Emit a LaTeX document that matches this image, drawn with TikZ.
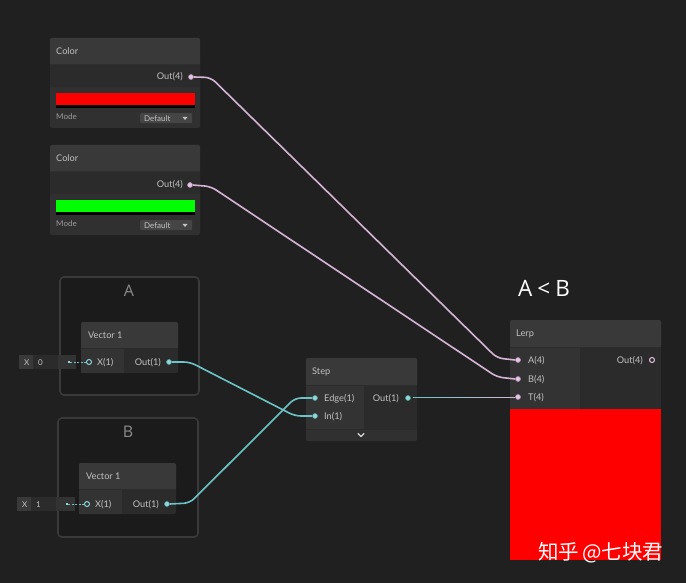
\documentclass[tikz,border=0pt]{standalone}
\usepackage{fontspec}
\setmainfont{Lato}
\newfontfamily\cjkfont{Noto Sans CJK SC}
\newfontfamily\bigfont{Open Sans}
\usetikzlibrary{calc}
\definecolor{bg}{HTML}{202020}
\definecolor{hdrc}{HTML}{393939}
\definecolor{bodyD}{HTML}{2B2B2B}
\definecolor{bodyL}{HTML}{333333}
\definecolor{bodyM}{HTML}{303030}
\definecolor{grpfill}{HTML}{1B1B1B}
\definecolor{grpline}{HTML}{3A3A3A}
\definecolor{txt}{HTML}{C2C2C2}
\definecolor{txtdim}{HTML}{9E9E9E}
\definecolor{tealL}{HTML}{8ED8D8}
\definecolor{tealW}{HTML}{6CC4C6}
\definecolor{pinkL}{HTML}{E6C6E6}
\definecolor{pinkW}{HTML}{D6B4D6}
\definecolor{ddc}{HTML}{454545}
\begin{document}
\begin{tikzpicture}[x=1pt,y=-1pt,
  panel/.style={fill=bodyM, rounded corners=2pt, inner sep=0pt, outer sep=0pt, anchor=north west},
  grp/.style={draw=grpline, line width=1.6pt, fill=grpfill, rounded corners=4pt, inner sep=0pt, outer sep=0pt, anchor=north west},
  lbl/.style={text=txt, font=\fontsize{9.2}{11}\selectfont, inner sep=0pt, anchor=west},
  lble/.style={lbl, anchor=east},
  dim/.style={text=txtdim, font=\fontsize{8}{9}\selectfont, inner sep=0pt, anchor=west},
  grptitle/.style={text=txtdim!120, font=\bigfont\fontsize{16}{18}\selectfont, inner sep=0pt},
  tport/.style={circle, fill=tealL, draw=tealW!80!black, line width=0.6pt, minimum size=5pt, inner sep=0pt},
  tportO/.style={circle, draw=tealL, fill=bodyL, line width=1pt, minimum size=5pt, inner sep=0pt},
  pport/.style={circle, fill=pinkL, draw=pinkW!80!black, line width=0.6pt, minimum size=5pt, inner sep=0pt},
  pportO/.style={circle, draw=pinkL, fill=bodyD, line width=1pt, minimum size=5pt, inner sep=0pt},
  twire/.style={draw=tealW, line width=1.6pt, rounded corners=6pt},
  pwire/.style={draw=pinkW, line width=1.6pt, rounded corners=6pt},
  ddtri/.style={fill=txt},
]
\useasboundingbox (0,0) rectangle (686,583);
\fill[bg] (0,0) rectangle (686,583);

% ---------- Color node 1 ----------
\node[panel, minimum width=150pt, minimum height=90pt] (c1) at (50,38) {};
\fill[hdrc, rounded corners=2pt] (50,38) rectangle (200,64);
\fill[hdrc] (50,56) rectangle (200,64);
\fill[bodyD] (50,65) rectangle (200,87);
\node[lbl] (c1t) at (56,51) {Color};
\node[lble] (c1o) at (183,77) {Out(4)};
\node[pport] (c1p) at (191,77) {};
\fill[red] (56,93) rectangle (195,105);
\fill[black] (56,105) rectangle (195,108);
\node[dim] (c1m) at (56,117) {Mode};
\node[fill=ddc, minimum width=52pt, minimum height=10pt, inner sep=0pt, anchor=north west, rounded corners=1pt] (c1d) at (140,113) {};
\node[dim, text=txt] (c1dt) at (144,118.5) {Default};
\fill[ddtri] (182.5,117) -- (187.5,117) -- (185,120) -- cycle;

% ---------- Color node 2 ----------
\node[panel, minimum width=150pt, minimum height=90pt] (c2) at (50,145) {};
\fill[hdrc, rounded corners=2pt] (50,145) rectangle (200,171);
\fill[hdrc] (50,163) rectangle (200,171);
\fill[bodyD] (50,172) rectangle (200,194);
\node[lbl] (c2t) at (56,158) {Color};
\node[lble] (c2o) at (183,185) {Out(4)};
\node[pport] (c2p) at (190,185) {};
\fill[green] (56,200) rectangle (195,212);
\fill[black] (56,212) rectangle (195,215);
\node[dim] (c2m) at (56,224) {Mode};
\node[fill=ddc, minimum width=52pt, minimum height=10pt, inner sep=0pt, anchor=north west, rounded corners=1pt] (c2d) at (140,220) {};
\node[dim, text=txt] (c2dt) at (144,225.5) {Default};
\fill[ddtri] (182.5,224) -- (187.5,224) -- (185,227) -- cycle;

% ---------- Group A ----------
\node[grp, minimum width=139pt, minimum height=118pt] (gA) at (60,277) {};
\node[grptitle] (gAt) at (129,291) {A};
\node[panel, minimum width=97pt, minimum height=51pt, fill=bodyD] (vA) at (81,322) {};
\fill[hdrc, rounded corners=2pt] (81,322) rectangle (178,348);
\fill[hdrc] (81,340) rectangle (178,348);
\fill[bodyL] (81,349) rectangle (124,373);
\node[lbl] (vAt) at (88,335) {Vector 1};
\node[tportO] (vAx) at (89,362) {};
\node[lbl] (vAxl) at (97,362.5) {X(1)};
\node[lble] (vAol) at (161,362.5) {Out(1)};
\node[tport] (vAo) at (169,362) {};
% input field A
\fill[hdrc] (19,355) rectangle (33,369);
\fill[bodyD] (33,355) rectangle (58,369);
\fill[bodyL] (58,355) rectangle (76,369);
\node[dim, text=txt] (iAx) at (24,362.5) {X};
\node[dim, text=txt] (iAv) at (38,362.5) {0};
\node[fill=tealL, minimum size=2.2pt, inner sep=0pt] (iAd) at (69,362) {};
\draw[tealW, line width=1pt, dash pattern=on 2pt off 1.5pt] (iAd) -- (vAx);

% ---------- Group B ----------
\node[grp, minimum width=140pt, minimum height=119pt] (gB) at (58,418) {};
\node[grptitle] (gBt) at (128,432) {B};
\node[panel, minimum width=97pt, minimum height=51pt, fill=bodyD] (vB) at (79,463) {};
\fill[hdrc, rounded corners=2pt] (79,463) rectangle (176,489);
\fill[hdrc] (79,481) rectangle (176,489);
\fill[bodyL] (79,490) rectangle (122,514);
\node[lbl] (vBt) at (86,476) {Vector 1};
\node[tportO] (vBx) at (87,504) {};
\node[lbl] (vBxl) at (95,504.5) {X(1)};
\node[lble] (vBol) at (159,504.5) {Out(1)};
\node[tport] (vBo) at (167,504) {};
% input field B
\fill[hdrc] (17,497) rectangle (31,511);
\fill[bodyD] (31,497) rectangle (56,511);
\fill[bodyL] (56,497) rectangle (75,511);
\node[dim, text=txt] (iBx) at (22,504.5) {X};
\node[dim, text=txt] (iBv) at (36,504.5) {1};
\node[fill=tealL, minimum size=2.2pt, inner sep=0pt] (iBd) at (67,504) {};
\draw[tealW, line width=1pt, dash pattern=on 2pt off 1.5pt] (iBd) -- (vBx);

% ---------- Step ----------
\node[panel, minimum width=111pt, minimum height=83pt, fill=bodyD] (st) at (306,358) {};
\fill[hdrc, rounded corners=2pt] (306,358) rectangle (417,385);
\fill[hdrc] (306,377) rectangle (417,385);
\fill[bodyL] (306,386) rectangle (364,429);
\fill[hdrc!85!black, rounded corners=2pt] (306,430) rectangle (417,441);
\fill[hdrc!85!black] (306,430) rectangle (417,435);
\node[lbl] (stt) at (312,372) {Step};
\node[tport] (ste) at (315,398) {};
\node[lbl] (stel) at (324,399) {Edge(1)};
\node[tport] (sti) at (315,416) {};
\node[lbl] (stil) at (324,417) {In(1)};
\node[lble] (stol) at (399,399) {Out(1)};
\node[tport] (sto) at (408,398) {};
\draw[white!85!black, line width=1.2pt, line cap=round, line join=round] (358,433.5) -- (361,436.5) -- (364,433.5);

% ---------- Lerp ----------
\node[panel, minimum width=151pt, minimum height=240pt, fill=bodyD] (lp) at (510,320) {};
\fill[hdrc, rounded corners=2pt] (510,320) rectangle (661,347);
\fill[hdrc] (510,339) rectangle (661,347);
\fill[bodyL] (510,348) rectangle (580,409);
\fill[red] (510,409) rectangle (661,560);
\node[lbl] (lpt) at (516,334) {Lerp};
\node[pport] (lpa) at (518,360) {};
\node[lbl] (lpal) at (528,361) {A(4)};
\node[pport] (lpb) at (518,379) {};
\node[lbl] (lpbl) at (528,380) {B(4)};
\node[pport] (lpc) at (518,397) {};
\node[lbl] (lpcl) at (528,398) {T(4)};
\node[lble] (lpol) at (643,361) {Out(4)};
\node[pportO] (lpo) at (652,360) {};

% ---------- wires ----------
\draw[pwire] (c1p.east) -- ++(17,0.5) -- ($(lpa.center)+(-21,-2)$) -- (lpa.west);
\draw[pwire] (c2p.east) -- ++(18,1.5) -- ($(lpb.center)+(-21,-2)$) -- (lpb.west);
\draw[twire] (vAo.east) -- ++(18,0) -- ($(sti.center)+(-20,0)$) -- (sti.west);
\draw[twire] (vBo.east) -- ++(20,-1) -- ($(ste.center)+(-20,0)$) -- (ste.west);
\shade[left color=tealW, right color=pinkW] ($(sto.east)+(2,-0.8)$) rectangle ($(lpc.west)+(0,0.8)$);

% ---------- texts ----------
\node[text=white, font=\bigfont\fontsize{22.5}{26}\selectfont, inner sep=0pt, anchor=west] (cmp) at (518,288) {A\hspace{5pt}<\hspace{5pt}B};
\node[text=white, font=\cjkfont\fontsize{20.5}{24}\selectfont, inner sep=0pt, anchor=west] (wm) at (538,553) {知乎\hspace{3pt}@七块君};
\end{tikzpicture}
\end{document}
